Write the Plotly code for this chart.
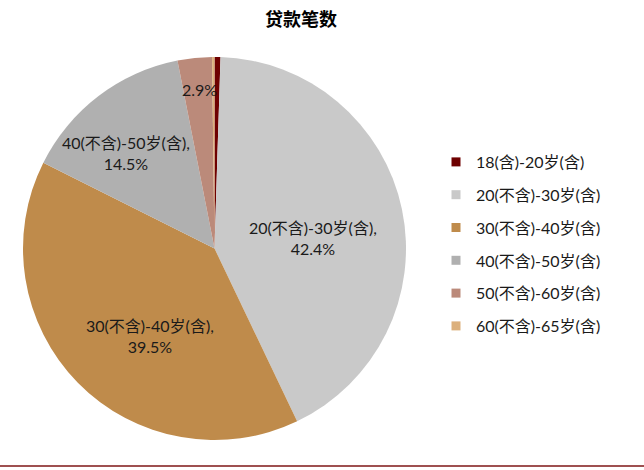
import plotly.graph_objects as go

# 贷款笔数 by borrower age band
labels = ["18(含)-20岁(含)", "20(不含)-30岁(含)", "30(不含)-40岁(含)",
          "40(不含)-50岁(含)", "50(不含)-60岁(含)", "60(不含)-65岁(含)"]
shares = [0.5, 42.4, 39.5, 14.5, 2.9, 0.2]
colors = ["#6e0000", "#c9c9c9", "#bf8b4b", "#b0b0b0", "#bb8a7a", "#dcb07c"]

W, H = 644, 470
font_family = "Lato, 'Noto Sans CJK SC', sans-serif"

fig = go.Figure()

fig.add_trace(go.Pie(
    labels=labels,
    values=shares,
    sort=False,
    direction="clockwise",
    rotation=0,
    marker=dict(colors=colors, line=dict(width=0)),
    textinfo="none",
    hoverinfo="label+percent",
    showlegend=False,
    domain=dict(x=[22 / W, 407 / W], y=[1 - 440 / H, 1 - 57 / H]),
))

# legend proxies so the rows can be spaced like the original
for i, (lab, col) in enumerate(zip(labels, colors)):
    fig.add_trace(go.Scatter(
        x=[None], y=[None], mode="markers", name=lab,
        legendgroup=str(i),
        marker=dict(symbol="square", size=9, color=col),
    ))


def px(x, y):
    return x / W, 1 - y / H


label_pos = {
    1: (313, 238),
    2: (150, 336),
    3: (126, 153),
}
for i, (x, y) in label_pos.items():
    ax, ay = px(x, y)
    fig.add_annotation(
        x=ax, y=ay, xref="paper", yref="paper", showarrow=False,
        xanchor="center", yanchor="middle",
        text=f"{labels[i]},<br>{shares[i]:.1f}%",
        font=dict(size=16, color="#1a1a1a", family=font_family),
    )
ax, ay = px(199, 90)
fig.add_annotation(
    x=ax, y=ay, xref="paper", yref="paper", showarrow=False,
    xanchor="center", yanchor="middle",
    text=f"{shares[4]:.1f}%",
    font=dict(size=16, color="#1a1a1a", family=font_family),
)

fig.update_layout(
    width=W,
    height=H,
    margin=dict(l=0, r=0, t=0, b=0),
    paper_bgcolor="white",
    plot_bgcolor="white",
    title=dict(
        text="<b>贷款笔数</b>",
        x=301 / W, xanchor="center",
        y=1 - 20 / H, yanchor="middle",
        font=dict(size=18, color="#000000", family="'Noto Sans CJK SC', sans-serif"),
    ),
    xaxis=dict(visible=False),
    yaxis=dict(visible=False),
    legend=dict(
        x=436 / W, xanchor="left",
        y=1 - 145 / H, yanchor="top",
        tracegroupgap=9,
        font=dict(size=16, color="#1a1a1a", family=font_family),
        bgcolor="rgba(0,0,0,0)",
    ),
    shapes=[dict(
        type="line", xref="paper", yref="paper",
        x0=0, x1=1, y0=4 / H, y1=4 / H,
        line=dict(color="#9e5050", width=2),
    )],
)

# drop the browser's default body margin so the figure sits at the page corner
fig.write_html("out.html", config={"displayModeBar": False},
               post_script="document.body.style.margin='0px';")
